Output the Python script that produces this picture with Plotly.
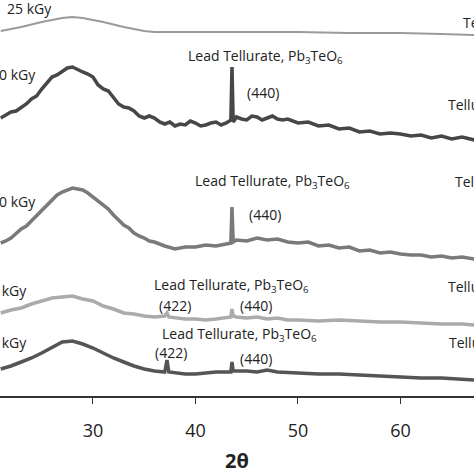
import plotly.graph_objects as go

x25 = [21, 23, 25, 27, 28, 29, 31, 33, 35, 36, 40, 45, 50, 55, 60, 64, 67.2]
y25 = [365, 369, 374, 378, 379, 378, 374, 369, 365, 364, 364, 364, 364, 363, 363, 362, 361]

x20 = [21, 21.5, 22, 22.5, 23, 23.5, 24, 24.5, 25, 25.5, 26, 26.5, 27, 27.5, 28, 28.5, 29, 29.5, 30, 30.5, 31, 31.5, 32, 32.5, 33, 33.5, 34, 34.5, 35, 35.5, 36, 36.5, 37, 37.5, 38, 38.5, 39, 39.5, 40, 40.5, 41, 41.5, 42, 42.5, 43, 43.45, 43.56, 43.68, 44, 44.5, 45, 45.5, 46, 46.5, 47, 47.5, 48, 48.5, 49, 49.5, 50, 51, 52, 53, 54, 55, 56, 57, 58, 59, 60, 61, 62, 63, 64, 65, 66, 67.2]
y20 = [278, 281, 284, 285, 288, 292, 297, 300, 307, 313, 319, 321, 324, 328, 329, 326, 324, 322, 319, 311, 307, 305, 299, 292, 289, 288, 285, 280, 278, 280, 278, 274, 272, 274, 270, 272, 271, 275, 273, 270, 271, 273, 274, 271, 273, 276, 329, 274, 279, 277, 276, 280, 279, 276, 278, 280, 277, 276, 277, 275, 273, 274, 270, 271, 267, 268, 264, 265, 262, 263, 262, 260, 261, 258, 260, 257, 259, 256]

x10 = [21, 21.5, 22, 22.5, 23, 23.5, 24, 24.5, 25, 25.5, 26, 26.5, 27, 27.5, 28, 28.5, 29, 29.5, 30, 30.5, 31, 31.5, 32, 32.5, 33, 33.5, 34, 34.5, 35, 35.5, 36, 37, 38, 39, 40, 41, 42, 43, 43.45, 43.56, 43.68, 44, 45, 46, 47, 48, 49, 50, 51, 52, 53, 54, 55, 56, 57, 58, 59, 60, 61, 62, 63, 64, 65, 66, 67.2]
y10 = [153, 155, 158, 163, 167, 170, 175, 180, 186, 190, 195, 201, 204, 206, 208, 207, 206, 203, 199, 194, 191, 187, 181, 176, 171, 168, 163, 160, 158, 155, 154, 150, 147, 149, 149, 151, 150, 152, 153, 189, 154, 156, 155, 158, 156, 157, 154, 153, 154, 150, 151, 148, 149, 145, 146, 143, 144, 142, 141, 141, 139, 140, 138, 139, 137]

x5 = [21, 22, 23, 24, 25, 26, 27, 28, 29, 30, 31, 32, 33, 34, 35, 36, 37, 37.22, 37.4, 38, 39, 40, 41, 42, 43, 43.45, 43.56, 43.68, 44, 45, 46, 47, 48, 49, 50, 52, 54, 56, 58, 60, 62, 64, 66, 67.2]
y5 = [83, 86, 88, 92, 95, 98, 99, 100, 97, 95, 90, 87, 83, 82, 80, 79, 80, 83, 79, 78, 77, 77, 76, 77, 78, 79, 87, 80, 79, 78, 79, 77, 78, 76, 76, 75, 76, 75, 74, 74, 73, 72, 72, 71]

x0 = [21, 22, 23, 24, 25, 26, 27, 28, 29, 30, 31, 32, 33, 34, 35, 36, 37, 37.22, 37.4, 38, 39, 40, 41, 42, 43, 43.45, 43.56, 43.68, 44, 45, 46, 47, 48, 50, 52, 54, 56, 58, 60, 62, 64, 66, 67.2]
y0 = [27, 30, 34, 38, 43, 49, 54, 55, 52, 48, 43, 38, 34, 30, 27, 25, 24, 36, 24, 23, 22, 22, 23, 24, 24, 24, 34, 25, 25, 25, 24, 26, 24, 23, 22, 22, 21, 20, 19, 18, 18, 17, 16]

series = [
    ("25 kGy", x25, y25, "#9a9a9a", 2.2),
    ("20 kGy", x20, y20, "#474747", 3.5),
    ("10 kGy", x10, y10, "#7a7a7a", 3.5),
    ("5 kGy", x5, y5, "#ababab", 3.5),
    ("0 kGy", x0, y0, "#555555", 3.5),
]

fig = go.Figure()
for name, xs, ys, col, w in series:
    fig.add_trace(go.Scatter(x=xs, y=ys, mode="lines", name=name,
                             line=dict(color=col, width=w)))

F = "Open Sans"
def ann(x, y, t, anchor="center", xref="x"):
    fig.add_annotation(x=x, y=y, xref=xref, yref="y", text=t, showarrow=False,
                       xanchor=anchor, font=dict(family=F, size=14, color="#222"))

ann(0.01, 388, "25 kGy", "left", "paper")
ann(0.08, 322, "20 kGy", "right", "paper")
ann(0.08, 195, "10 kGy", "right", "paper")
ann(0.062, 106, "5 kGy", "right", "paper")
ann(0.062, 54, "0 kGy", "right", "paper")
for yy, xp in [(374, 0.972), (292, 0.94), (215, 0.955), (110, 0.94), (54, 0.943)]:
    ann(xp, yy, "Tellurite", "left", "paper")
sub = "Lead Tellurate, Pb<sub>3</sub>TeO<sub>6</sub>"
ann(46.8, 340, sub)
ann(47.5, 215, sub)
ann(43.55, 111, sub)
ann(44.3, 62, sub)
ann(46.6, 304, "(440)")
ann(46.8, 182, "(440)")
ann(45.9, 91, "(440)")
ann(45.9, 38, "(440)")
ann(38.0, 91, "(422)")
ann(37.6, 44, "(422)")

fig.update_layout(
    width=474, height=474, margin=dict(l=0, r=0, t=0, b=78, autoexpand=False),
    paper_bgcolor="white", plot_bgcolor="white", showlegend=False,
    xaxis=dict(range=[20.93, 67.17], tickvals=[20, 30, 40, 50, 60, 70],
               ticks="outside", ticklen=6, tickcolor="#333", showline=True,
               linecolor="#333", linewidth=1.5, showgrid=False, zeroline=False,
               ticklabelstandoff=12,
               tickfont=dict(family=F, size=18, color="#222"),
               title=dict(text="<b>2θ</b>", font=dict(family=F, size=20, color="#222"), standoff=22)),
    yaxis=dict(range=[0, 396], visible=False),
)
fig.write_html("out.html", config={"displayModeBar": False},
               post_script="document.body.style.margin='0';document.body.style.overflow='hidden';")
